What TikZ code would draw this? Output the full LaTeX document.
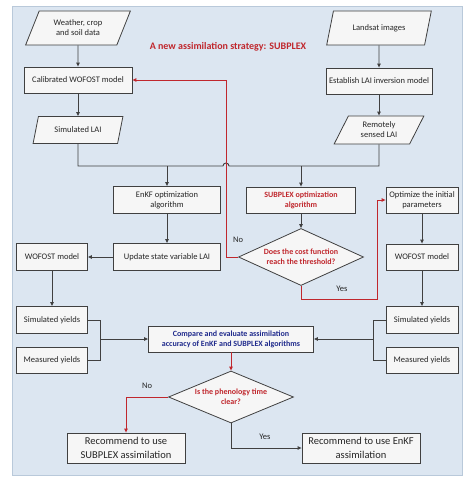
\documentclass[tikz,border=0pt]{standalone}
\usepackage{fontspec}
\setmainfont{Carlito}
\usetikzlibrary{shapes.geometric,arrows.meta}
\definecolor{panelblue}{HTML}{DCE6F1}
\definecolor{paneledge}{HTML}{B9C9DA}
\definecolor{boxline}{HTML}{404040}
\definecolor{boxfill}{HTML}{F6F6F6}
\definecolor{flowred}{HTML}{C0272D}
\definecolor{flownavy}{HTML}{1F2A8C}
\tikzset{
  box/.style={draw=boxline, fill=boxfill, line width=0.8pt, inner sep=0pt, align=center,
    font=\fontsize{8.5}{10}\selectfont, text=black!85},
  para/.style={box, trapezium, trapezium left angle=62, trapezium right angle=118, trapezium stretches=true},
  dia/.style={box, diamond, aspect=2.3, minimum width=125pt, font=\bfseries\fontsize{8}{10}\selectfont, text=flowred},
  rec/.style={box, minimum width=118pt, minimum height=30pt, font=\fontsize{10.5}{14}\selectfont},
  line/.style={draw=boxline, line width=0.9pt},
  arr/.style={line, -{Triangle[length=4pt,width=3.5pt]}},
  redarr/.style={draw=flowred, line width=0.9pt, -{Triangle[length=4pt,width=3.5pt]}},
  lbl/.style={font=\fontsize{8.5}{10}\selectfont, text=black!85}
}
\begin{document}
\begin{tikzpicture}[x=1pt,y=-1pt]
\useasboundingbox (0,0) rectangle (474,484);
\fill[white] (0,0) rectangle (474,484);
\filldraw[fill=panelblue, draw=paneledge] (12,6) rectangle (462,475);

% left input column
\node[para, minimum width=105pt, minimum height=34pt] (weather) at (78,28) {Weather, crop\\and soil data};
\node[box, minimum width=108pt, minimum height=26pt] (calib) at (78,80) {Calibrated WOFOST model};
\node[para, minimum width=90pt, minimum height=27pt] (simlai) at (78,130) {Simulated LAI};
% right input column
\node[para, minimum width=105pt, minimum height=34pt] (landsat) at (379,28) {Landsat images};
\node[box, minimum width=106pt, minimum height=26pt] (invert) at (379,81) {Establish LAI inversion model};
\node[para, minimum width=90pt, minimum height=28pt] (remote) at (379,130) {Remotely\\sensed LAI};

\node[font=\bfseries\fontsize{10}{12}\selectfont, text=flowred] (title) at (228,47) {A new assimilation strategy: SUBPLEX};

% algorithms
\node[box, minimum width=107pt, minimum height=27pt] (enkf) at (167,200) {EnKF optimization\\algorithm};
\node[box, minimum width=109pt, minimum height=26pt, font=\bfseries\fontsize{8}{10}\selectfont, text=flowred] (subplex) at (301,200) {SUBPLEX optimization\\algorithm};
\node[box, minimum width=72pt, minimum height=26pt] (optim) at (422,200) {Optimize the initial\\parameters};

\node[box, minimum width=71pt, minimum height=27pt] (wofL) at (52,257) {WOFOST model};
\node[box, minimum width=107pt, minimum height=27pt] (update) at (167,257) {Update state variable LAI};
\node[dia, minimum height=57pt] (cost) at (301,257) {Does the cost function\\reach the threshold?};
\node[box, minimum width=72pt, minimum height=26pt] (wofR) at (422,257) {WOFOST model};

% yields
\node[box, minimum width=71pt, minimum height=27pt] (simyL) at (52,320) {Simulated yields};
\node[box, minimum width=71pt, minimum height=26pt] (measyL) at (52,360) {Measured yields};
\node[box, minimum width=72pt, minimum height=27pt] (simyR) at (422,320) {Simulated yields};
\node[box, minimum width=72pt, minimum height=26pt] (measyR) at (422,360) {Measured yields};
\node[box, minimum width=165pt, minimum height=26pt, font=\bfseries\fontsize{8}{10}\selectfont, text=flownavy] (compare) at (231,339) {Compare and evaluate assimilation\\accuracy of EnKF and SUBPLEX algorithms};

\node[dia, minimum height=52pt] (pheno) at (231,397) {Is the phenology time\\clear?};
\node[rec] (recS) at (126,448) {Recommend to use\\SUBPLEX assimilation};
\node[rec] (recE) at (361,448) {Recommend to use EnKF\\assimilation};

% black flow
\draw[arr] (weather) -- (calib);
\draw[arr] (calib) -- (simlai);
\draw[arr] (landsat) -- (invert);
\draw[arr] (invert) -- (remote);
\draw[line] (simlai.south) -- (78,166) -- (223,166) arc[start angle=180, end angle=0, radius=3pt] -- (379,166) -- (remote.south);
\draw[arr] (167,166) -- (enkf);
\draw[arr] (301,166) -- (subplex);
\draw[arr] (enkf) -- (update);
\draw[arr] (update) -- (wofL);
\draw[arr] (wofL) -- (simyL);
\draw[arr] (subplex) -- (cost);
\draw[arr] (optim) -- (wofR);
\draw[arr] (wofR) -- (simyR);
\draw[line] (simyL.east) -- (100,320) |- (measyL.east);
\draw[arr] (100,339) -- (compare.west);
\draw[line] (simyR.west) -- (373,320) |- (measyR.west);
\draw[arr] (373,339) -- (compare.east);
\draw[arr] (pheno.south) |- (recE.west);

% red flow
\draw[redarr] (cost.west) -- (226,257) |- (calib.east);
\draw[redarr] (cost.south) |- (377,299) |- (optim.west);
\draw[redarr] (compare) -- (pheno);
\draw[redarr] (pheno.west) -| (recS.north);

\node[lbl] (no1) at (238,240) {No};
\node[lbl] (yes1) at (342,289) {Yes};
\node[lbl] (no2) at (147,386) {No};
\node[lbl] (yes2) at (265,437) {Yes};
\end{tikzpicture}
\end{document}
